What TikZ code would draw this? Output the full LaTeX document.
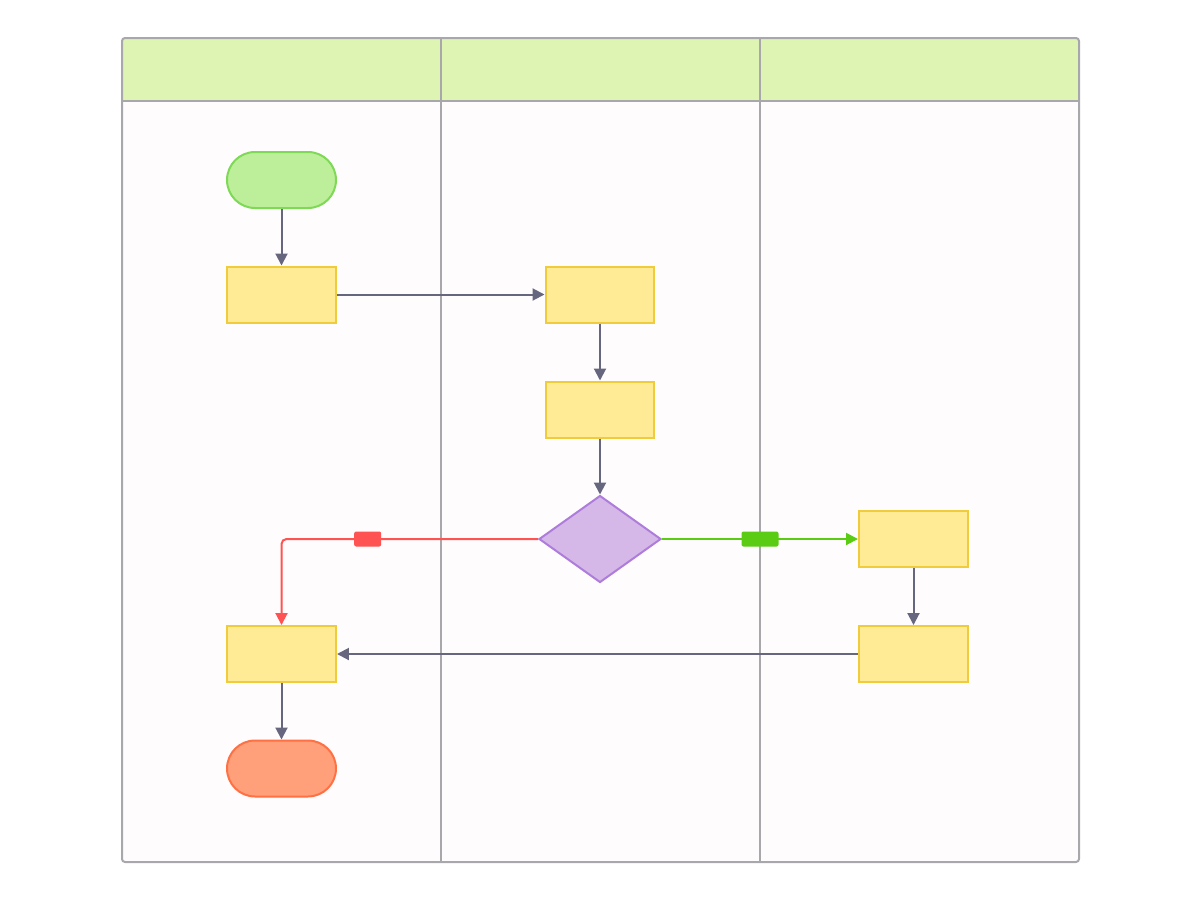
\documentclass[tikz,border=0pt]{standalone}
\usetikzlibrary{arrows.meta,positioning,shapes.geometric}
\definecolor{hdrgreen}{HTML}{DEF4B3}
\definecolor{lanebg}{HTML}{FFFCFD}
\definecolor{framegray}{HTML}{A8A8AC}
\definecolor{startfill}{HTML}{BDEE9A}
\definecolor{startdraw}{HTML}{7ED957}
\definecolor{boxfill}{HTML}{FFEA96}
\definecolor{boxdraw}{HTML}{F0CB3C}
\definecolor{decfill}{HTML}{D5B8E8}
\definecolor{decdraw}{HTML}{AE7DDB}
\definecolor{endfill}{HTML}{FFA07A}
\definecolor{enddraw}{HTML}{FF7043}
\definecolor{arrgray}{HTML}{66667F}
\definecolor{nored}{HTML}{FF5252}
\definecolor{yesgreen}{HTML}{5ACC14}
\tikzset{
  blk/.style={draw,rectangle,minimum width=2.18cm,minimum height=1.12cm,line width=0.04cm,inner sep=0pt},
  procblk/.style={blk,fill=boxfill,draw=boxdraw},
  termblk/.style={blk,rounded corners=0.56cm},
  startblk/.style={termblk,fill=startfill,draw=startdraw},
  endblk/.style={termblk,fill=endfill,draw=enddraw},
  decblk/.style={diamond,draw=decdraw,fill=decfill,line width=0.04cm,minimum width=2.44cm,minimum height=1.74cm,inner sep=0pt,aspect=1.4},
  tag/.style={rectangle,rounded corners=0.04cm,minimum height=0.3cm,inner sep=0pt},
  notag/.style={tag,fill=nored,minimum width=0.54cm},
  yestag/.style={tag,fill=yesgreen,minimum width=0.74cm},
  arr/.style={-{Triangle[length=0.24cm,width=0.24cm]},line width=0.04cm,arrgray},
  noarr/.style={arr,nored,rounded corners=0.1cm},
  yesarr/.style={arr,yesgreen},
  lane/.style={framegray,line width=0.04cm}
}
\begin{document}
\begin{tikzpicture}[x=0.02cm,y=-0.02cm]
  \useasboundingbox (0,0) rectangle (1200,900);
  % swimlanes
  \fill[lanebg,rounded corners=0.06cm] (122,38) rectangle (1079,862);
  \fill[hdrgreen,rounded corners=0.06cm] (122,38) rectangle (1079,101);
  \draw[lane] (122,101) -- (1079,101);
  \draw[lane] (441,38) -- (441,862);
  \draw[lane] (760,38) -- (760,862);
  \draw[lane,rounded corners=0.06cm] (122,38) rectangle (1079,862);

  % nodes
  \node[startblk] (start) at (281.5,180) {};
  \node[procblk] (stepa) at (281.5,294.5) {};
  \node[procblk] (stepb) at (600,294.5) {};
  \node[procblk] (stepc) at (600,409.5) {};
  \node[decblk] (check) at (600,539) {};
  \node[procblk] (stepd) at (913.5,539) {};
  \node[procblk] (stepe) at (913.5,654) {};
  \node[procblk] (stepf) at (281.5,654) {};
  \node[endblk] (finish) at (281.5,768.5) {};

  % connectors
  \draw[arr] (start) -- (stepa);
  \draw[arr] (stepa) -- (stepb);
  \draw[arr] (stepb) -- (stepc);
  \draw[arr] (stepc) -- (check);
  \draw[noarr] (check.west) -| node[notag,pos=0.332] (nolbl) {} (stepf.north);
  \draw[yesarr] (check.east) -- node[yestag,pos=0.5] (yeslbl) {} (stepd.west);
  \draw[arr] (stepd) -- (stepe);
  \draw[arr] (stepe) -- (stepf);
  \draw[arr] (stepf) -- (finish);
\end{tikzpicture}
\end{document}
